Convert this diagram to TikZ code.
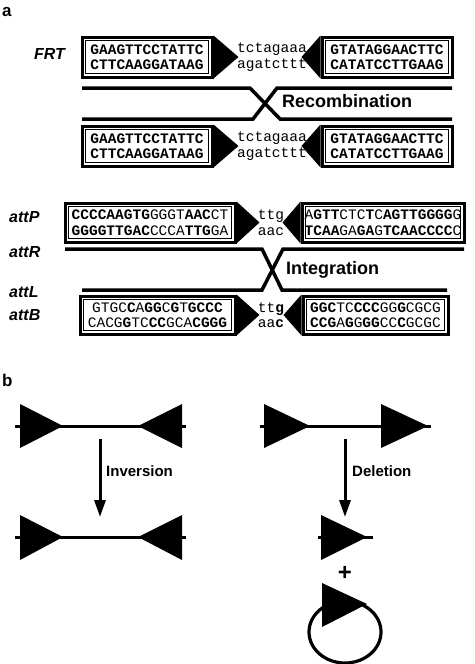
\documentclass[tikz,border=0pt]{standalone}
\usepackage{fontspec}
\setsansfont{Liberation Sans}
\setmonofont{Liberation Mono}
\usetikzlibrary{arrows.meta,positioning,calc}

\begin{document}
\begin{tikzpicture}[x=1pt,y=-1pt,>={Triangle[length=17pt,width=11pt]},
  seqbox/.style={draw,line width=3pt,inner sep=0pt,align=center,minimum height=40pt,
    font=\ttfamily\fontsize{14.5}{15.5}\selectfont,
    path picture={\draw[line width=1.2pt]
      ([shift={(3.5pt,-3.5pt)}]path picture bounding box.north west) rectangle
      ([shift={(-3.5pt,3.5pt)}]path picture bounding box.south east);}},
  boldseq/.style={seqbox,font=\ttfamily\bfseries\fontsize{14.5}{15.5}\selectfont},
  seqmid/.style={inner sep=0pt,align=center,font=\ttfamily\fontsize{14.5}{15.5}\selectfont},
  tag/.style={anchor=west,inner sep=0pt,font=\sffamily\bfseries\itshape\fontsize{16}{16}\selectfont},
  stepname/.style={anchor=west,inner sep=0pt,font=\sffamily\bfseries\fontsize{18}{18}\selectfont},
  opname/.style={anchor=west,inner sep=0pt,font=\sffamily\bfseries\fontsize{15}{15}\selectfont},
  panel/.style={anchor=west,inner sep=0pt,font=\sffamily\bfseries\fontsize{17}{17}\selectfont},
  dna/.style={line width=3.5pt},
  chrom/.style={line width=3pt}]
  \useasboundingbox (0,0) rectangle (474,664);

  % ---- panel a: FRT
  \node[panel] (pa) at (2,12) {a};
  \node[tag] (frt) at (34,54) {FRT};

  \node[boldseq,minimum width=130pt] (f1l) at (147,57) {GAAGTTCCTATTC\\CTTCAAGGATAAG};
  \node[boldseq,minimum width=130pt] (f1r) at (387,57) {GTATAGGAACTTC\\CATATCCTTGAAG};
  \node[seqmid] (f1m) at (272,57) {tctagaaa\\agatcttt};
  \fill (f1l.north east) -- ([xshift=25pt]f1l.east) -- (f1l.south east) -- cycle;
  \fill (f1r.north west) -- ([xshift=-19pt]f1r.west) -- (f1r.south west) -- cycle;

  \draw[dna] (82,88) -- (250,88) -- (280,119) -- (452,119);
  \draw[dna] (452,88) -- (277,88) -- (253,119) -- (82,119);
  \node[stepname] (rec) at (282,101) {Recombination};

  \node[boldseq,minimum width=130pt] (f2l) at (147,146) {GAAGTTCCTATTC\\CTTCAAGGATAAG};
  \node[boldseq,minimum width=130pt] (f2r) at (387,146) {GTATAGGAACTTC\\CATATCCTTGAAG};
  \node[seqmid] (f2m) at (272,146) {tctagaaa\\agatcttt};
  \fill (f2l.north east) -- ([xshift=25pt]f2l.east) -- (f2l.south east) -- cycle;
  \fill (f2r.north west) -- ([xshift=-19pt]f2r.west) -- (f2r.south west) -- cycle;

  % ---- panel a: att sites
  \node[tag] (attp) at (9,217) {attP};
  \node[tag] (attr) at (9,252) {attR};
  \node[tag] (attl) at (9,292) {attL};
  \node[tag] (attb) at (9,315) {attB};

  \node[seqbox,minimum width=170pt,minimum height=39pt] (apl) at (150,222.5)
    {\textbf{CCCCAAGTG}GGGT\textbf{AAC}CT\\\textbf{GGGGTTGAC}CCCA\textbf{TTG}GA};
  \node[seqbox,minimum width=162pt,minimum height=39pt] (apr) at (383,222.5)
    {A\textbf{GTT}CTC\textbf{T}C\textbf{AGTTGGGG}G\\\textbf{TCAA}GA\textbf{GA}G\textbf{TCAACCCC}C};
  \node[seqmid] (apm) at (271,222.5) {ttg\\aac};
  \fill (apl.north east) -- ([xshift=23pt]apl.east) -- (apl.south east) -- cycle;
  \fill (apr.north west) -- ([xshift=-18pt]apr.west) -- (apr.south west) -- cycle;

  \draw[dna] (65,249) -- (262,249) -- (282,290) -- (447,290);
  \draw[dna] (464,249) -- (283,249) -- (262,290) -- (82,290);
  \node[stepname] (integ) at (286,270) {Integration};

  \node[seqbox,minimum width=155pt,minimum height=38pt] (abl) at (157.5,315)
    {GTGC\textbf{C}A\textbf{GG}C\textbf{G}T\textbf{GCCC}\\CACG\textbf{G}TC\textbf{CC}GCA\textbf{CGGG}};
  \node[seqbox,minimum width=145pt,minimum height=38pt] (abr) at (375.5,315)
    {\textbf{GGC}TC\textbf{CCC}GG\textbf{G}CGCG\\\textbf{CCG}A\textbf{G}G\textbf{GG}CC\textbf{C}GCGC};
  \node[seqmid] (abm) at (271,315) {tt\textbf{g}\\aa\textbf{c}};
  \fill (abl.north east) -- ([xshift=23pt]abl.east) -- (abl.south east) -- cycle;
  \fill (abr.north west) -- ([xshift=-18pt]abr.west) -- (abr.south west) -- cycle;

  % ---- panel b
  \node[panel] (pb) at (2,380) {b};

  % inversion
  \draw[chrom] (15,426) -- (186,426);
  \fill (20,404) -- (63,426) -- (20,448) -- cycle;
  \fill (182,404) -- (138,426) -- (182,448) -- cycle;
  \coordinate (inv1) at (100,439);
  \coordinate (inv2) at (100,517);
  \draw[chrom,->] (inv1) -- (inv2);
  \node[opname] (inv) at (106,471) {Inversion};
  \draw[chrom] (15,537) -- (186,537);
  \fill (20,515) -- (63,537) -- (20,560) -- cycle;
  \fill (182,515) -- (138,537) -- (182,560) -- cycle;

  % deletion
  \draw[chrom] (260,426) -- (431,426);
  \fill (264,404) -- (310,426) -- (264,448) -- cycle;
  \fill (381,404) -- (428,426) -- (381,448) -- cycle;
  \coordinate (del1) at (345,439);
  \coordinate (del2) at (345,517);
  \draw[chrom,->] (del1) -- (del2);
  \node[opname] (del) at (352,471) {Deletion};
  \draw[chrom] (318,537) -- (373,537);
  \fill (321,515) -- (367,537) -- (321,560) -- cycle;
  \node[inner sep=0pt,font=\sffamily\bfseries\fontsize{24}{24}\selectfont] (plus) at (345,573) {+};
  \draw[line width=3.2pt] (345,632) ellipse [x radius=36, y radius=31];
  \fill (322,583) -- (367,604) -- (322,627) -- cycle;
\end{tikzpicture}
\end{document}
